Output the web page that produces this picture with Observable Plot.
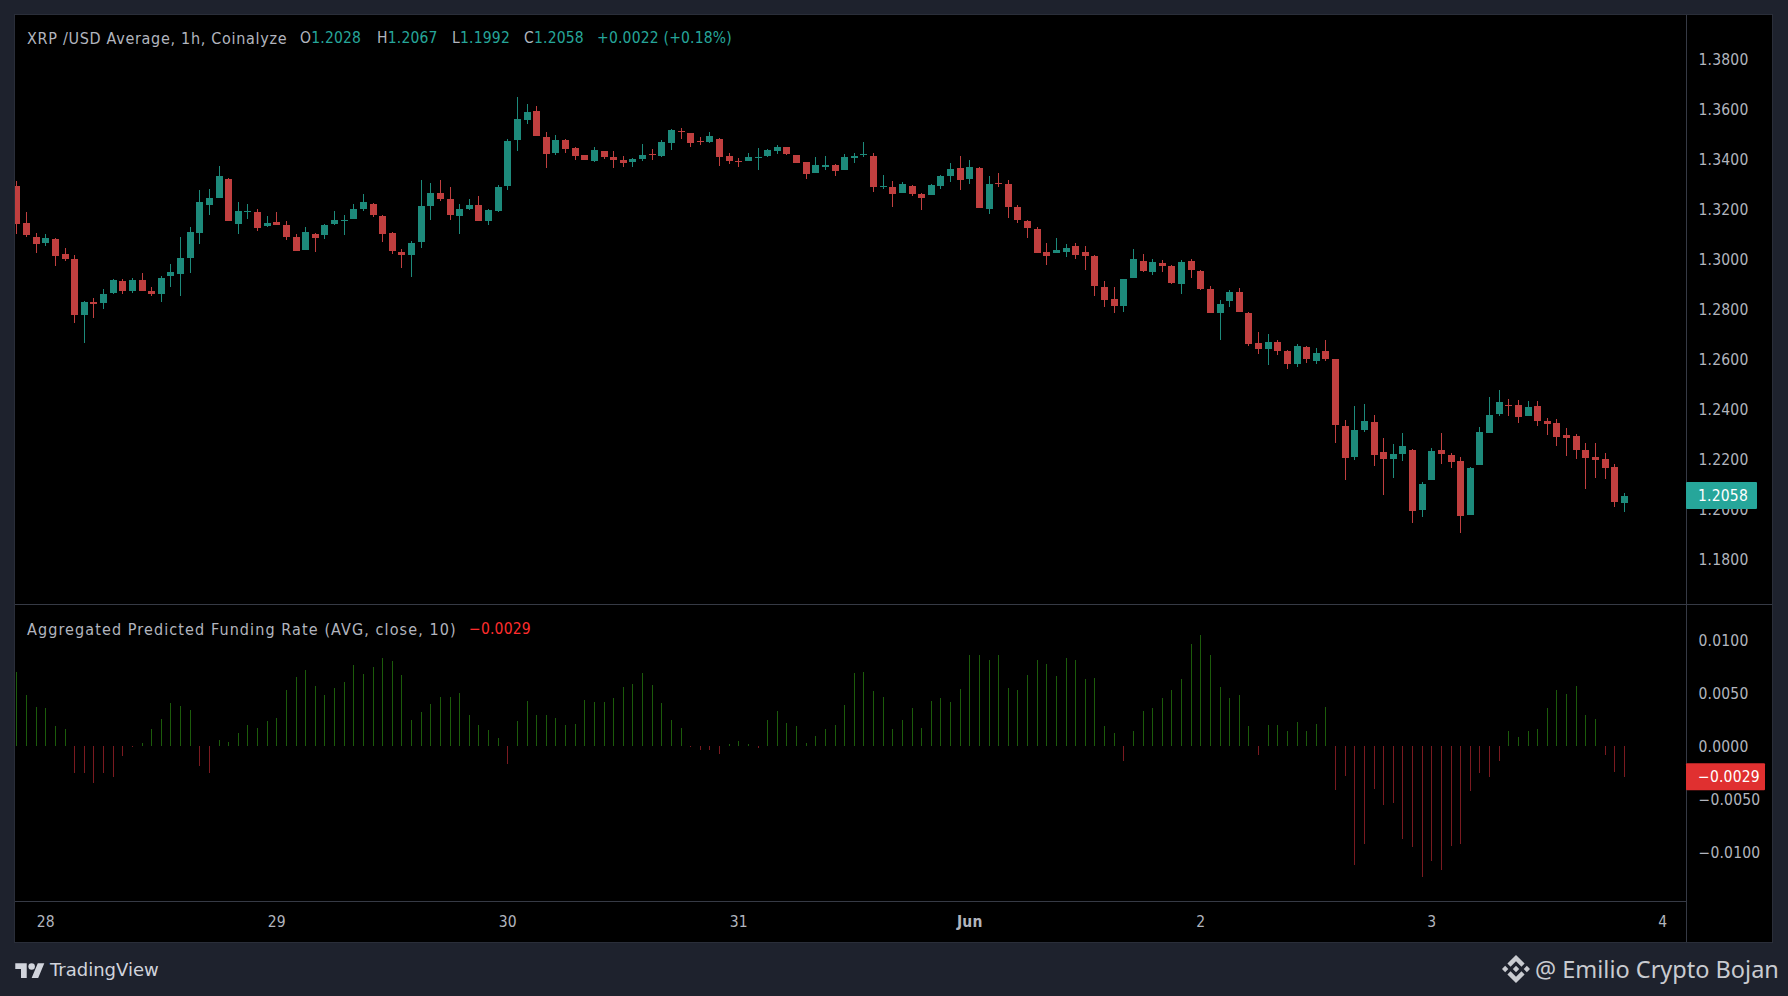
<!DOCTYPE html>
<html>
<head>
<meta charset="utf-8">
<script src="https://cdn.jsdelivr.net/npm/d3@7"></script>
<script src="https://cdn.jsdelivr.net/npm/@observablehq/plot@0.6"></script>
<style>
html,body{margin:0;padding:0;background:#1e222d;width:1788px;height:996px;overflow:hidden}
#page{position:relative;width:1788px;height:996px;background:#1e222d;font-family:"DejaVu Sans",sans-serif;}
#panel{position:absolute;left:14px;top:14px;width:1759px;height:929px;background:#000;box-sizing:border-box;border:1px solid #2a2e39}
.pane{position:absolute;left:15px}
.pane svg{display:block}
.legend{position:absolute;font-size:15.5px;letter-spacing:.2px;color:#b2b5be;white-space:nowrap;font-family:"DejaVu Sans Condensed","DejaVu Sans",sans-serif;font-stretch:condensed}
.up{color:#26a69a}.dn{color:#ff2d2d}
#tv{position:absolute;left:15px;top:960px;color:#d1d4dc;font-size:18px;display:flex;align-items:center;height:18px}
#wm{position:absolute;left:1502px;top:953px;color:#c9cbd0;font-size:23.5px;font-family:"Noto Sans",sans-serif;display:flex;align-items:center;height:32px;white-space:nowrap}
</style>
</head>
<body>
<div id="page">
  <div id="panel"></div>
  <div class="pane" id="pricePane" style="top:15px"></div>
  <div class="pane" id="fundPane" style="top:604px"></div>
  <div class="pane" id="axisPane" style="top:901px"></div>
  <div class="legend" style="left:27px;top:29px;font-size:16px;letter-spacing:.7px">XRP /USD Average, 1h, Coinalyze</div>
  <div class="legend" style="left:300px;top:29px">O<span class="up">1.2028</span></div>
  <div class="legend" style="left:377px;top:29px">H<span class="up">1.2067</span></div>
  <div class="legend" style="left:452px;top:29px">L<span class="up">1.1992</span></div>
  <div class="legend" style="left:524px;top:29px">C<span class="up">1.2058</span></div>
  <div class="legend up" style="left:597px;top:29px">+0.0022 (+0.18%)</div>
  <div class="legend" style="left:27px;top:620px;font-size:16px;letter-spacing:1.1px">Aggregated Predicted Funding Rate (AVG, close, 10)</div>
  <div class="legend dn" style="left:469px;top:620px">−0.0029</div>
  <div id="tv">
    <svg width="30" height="18" viewBox="0 0 36 22" fill="#d1d4dc" style="margin-right:5px"><path d="M14 22H7V11H0V4h14v18zM28 22h-8l7.5-18h8L28 22z"/><circle cx="20" cy="8" r="4"/></svg>TradingView
  </div>
  <div id="wm">
    <svg width="28" height="28" viewBox="0 0 126.61 126.61" fill="#c9cbd0" style="margin-right:5px"><path d="M38.73 53.2l24.59-24.58 24.6 24.6 14.3-14.31L63.32 0 24.42 38.9zM0 63.31l14.3-14.31 14.31 14.31-14.31 14.3zM38.73 73.41l24.59 24.59 24.6-24.6 14.31 14.29-38.9 38.91-38.91-38.88zM98 63.31l14.3-14.31 14.31 14.3-14.31 14.32zM77.83 63.3L63.32 48.78 52.59 59.51l-1.24 1.23-2.54 2.54 14.51 14.5 14.51-14.47z"/></svg>@ Emilio Crypto Bojan
  </div>
</div>
<script>
const high = [
1.3316,1.3192,1.3107,1.3104,1.3088,1.3048,1.3020,1.2836,1.2848,1.2884,
1.2924,1.2924,1.2928,1.2948,1.2892,1.2936,1.2984,1.3092,1.3132,1.3280,
1.3284,1.3376,1.3328,1.3232,1.3224,1.3204,1.3176,1.3192,1.3156,1.3104,
1.3132,1.3108,1.3144,1.3196,1.3180,1.3224,1.3264,1.3228,1.3180,1.3112,
1.3044,1.3076,1.3320,1.3308,1.3320,1.3292,1.3224,1.3244,1.3256,1.3204,
1.3300,1.3483,1.3652,1.3624,1.3616,1.3512,1.3500,1.3484,1.3452,1.3420,
1.3452,1.3436,1.3436,1.3416,1.3408,1.3464,1.3444,1.3480,1.3524,1.3528,
1.3508,1.3492,1.3512,1.3488,1.3428,1.3408,1.3428,1.3448,1.3444,1.3460,
1.3452,1.3420,1.3392,1.3412,1.3416,1.3384,1.3424,1.3428,1.3472,1.3428,
1.3340,1.3316,1.3312,1.3300,1.3268,1.3304,1.3340,1.3388,1.3416,1.3400,
1.3372,1.3336,1.3348,1.3320,1.3220,1.3160,1.3132,1.3068,1.3088,1.3064,
1.3068,1.3056,1.3020,1.2916,1.2892,1.2924,1.3044,1.3024,1.3004,1.3000,
1.2980,1.3000,1.3004,1.2960,1.2896,1.2840,1.2880,1.2888,1.2792,1.2712,
1.2704,1.2680,1.2640,1.2664,1.2656,1.2648,1.2680,1.2604,1.2360,1.2416,
1.2424,1.2380,1.2288,1.2264,1.2308,1.2244,1.2112,1.2248,1.2308,1.2228,
1.2212,1.2172,1.2332,1.2452,1.2480,1.2444,1.2440,1.2436,1.2436,1.2368,
1.2364,1.2328,1.2304,1.2268,1.2268,1.2228,1.2184,1.2067];
const open = [
1.3296,1.3148,1.3092,1.3068,1.3084,1.3024,1.3004,1.2780,1.2832,1.2828,
1.2868,1.2916,1.2876,1.2920,1.2876,1.2864,1.2936,1.2944,1.3008,1.3108,
1.3220,1.3248,1.3324,1.3144,1.3192,1.3192,1.3136,1.3152,1.3140,1.3092,
1.3040,1.3104,1.3100,1.3144,1.3156,1.3164,1.3204,1.3224,1.3176,1.3108,
1.3032,1.3020,1.3072,1.3216,1.3268,1.3244,1.3176,1.3204,1.3220,1.3156,
1.3196,1.3296,1.3480,1.3560,1.3596,1.3492,1.3428,1.3480,1.3448,1.3420,
1.3396,1.3436,1.3412,1.3400,1.3392,1.3404,1.3424,1.3416,1.3468,1.3516,
1.3508,1.3476,1.3472,1.3484,1.3416,1.3396,1.3396,1.3408,1.3416,1.3436,
1.3452,1.3420,1.3392,1.3348,1.3372,1.3380,1.3360,1.3408,1.3420,1.3416,
1.3292,1.3292,1.3268,1.3296,1.3264,1.3260,1.3296,1.3336,1.3368,1.3324,
1.3368,1.3204,1.3308,1.3304,1.3212,1.3156,1.3124,1.3032,1.3028,1.3032,
1.3056,1.3032,1.3016,1.2892,1.2844,1.2816,1.2928,1.2996,1.2952,1.2988,
1.2976,1.2904,1.2996,1.2956,1.2884,1.2788,1.2836,1.2872,1.2788,1.2668,
1.2644,1.2672,1.2636,1.2584,1.2652,1.2596,1.2636,1.2604,1.2336,1.2212,
1.2320,1.2352,1.2232,1.2204,1.2224,1.2240,1.2000,1.2120,1.2240,1.2220,
1.2196,1.1980,1.2180,1.2308,1.2384,1.2420,1.2420,1.2376,1.2416,1.2356,
1.2348,1.2300,1.2296,1.2240,1.2212,1.2204,1.2172,1.2028];
const close = [
1.3144,1.3100,1.3064,1.3088,1.3016,1.3004,1.2780,1.2832,1.2824,1.2864,
1.2920,1.2876,1.2920,1.2876,1.2864,1.2928,1.2952,1.3008,1.3112,1.3232,
1.3248,1.3336,1.3156,1.3196,1.3196,1.3128,1.3148,1.3140,1.3092,1.3036,
1.3112,1.3088,1.3140,1.3160,1.3160,1.3204,1.3232,1.3180,1.3104,1.3036,
1.3020,1.3068,1.3216,1.3268,1.3244,1.3180,1.3204,1.3220,1.3156,1.3200,
1.3292,1.3476,1.3564,1.3592,1.3496,1.3424,1.3480,1.3444,1.3416,1.3400,
1.3440,1.3412,1.3400,1.3388,1.3404,1.3420,1.3420,1.3472,1.3520,1.3512,
1.3468,1.3472,1.3496,1.3412,1.3396,1.3392,1.3412,1.3412,1.3440,1.3452,
1.3424,1.3388,1.3344,1.3380,1.3380,1.3356,1.3412,1.3416,1.3424,1.3292,
1.3296,1.3264,1.3304,1.3264,1.3248,1.3300,1.3336,1.3364,1.3320,1.3372,
1.3208,1.3304,1.3304,1.3212,1.3160,1.3128,1.3028,1.3016,1.3040,1.3048,
1.3020,1.3016,1.2896,1.2840,1.2816,1.2924,1.3004,1.2956,1.2992,1.2976,
1.2908,1.2992,1.2960,1.2884,1.2788,1.2824,1.2872,1.2792,1.2664,1.2644,
1.2672,1.2636,1.2584,1.2656,1.2604,1.2628,1.2604,1.2340,1.2208,1.2320,
1.2356,1.2220,1.2204,1.2224,1.2256,1.1996,1.2104,1.2236,1.2224,1.2192,
1.1976,1.2168,1.2312,1.2380,1.2432,1.2416,1.2372,1.2412,1.2356,1.2344,
1.2292,1.2288,1.2240,1.2208,1.2200,1.2168,1.2032,1.2058];
const low = [
1.3104,1.3092,1.3028,1.3056,1.2976,1.2996,1.2748,1.2668,1.2768,1.2804,
1.2866,1.2864,1.2868,1.2876,1.2856,1.2832,1.2892,1.2856,1.2948,1.3064,
1.3180,1.3248,1.3156,1.3104,1.3164,1.3116,1.3132,1.3140,1.3080,1.3036,
1.3040,1.3032,1.3084,1.3140,1.3100,1.3164,1.3196,1.3172,1.3072,1.3024,
1.2968,1.2932,1.3048,1.3160,1.3236,1.3160,1.3104,1.3200,1.3156,1.3140,
1.3192,1.3280,1.3436,1.3544,1.3496,1.3368,1.3420,1.3428,1.3400,1.3400,
1.3392,1.3404,1.3368,1.3372,1.3372,1.3396,1.3400,1.3412,1.3440,1.3484,
1.3452,1.3460,1.3468,1.3376,1.3384,1.3372,1.3396,1.3360,1.3412,1.3424,
1.3420,1.3388,1.3324,1.3348,1.3360,1.3336,1.3360,1.3388,1.3412,1.3272,
1.3284,1.3212,1.3268,1.3256,1.3200,1.3260,1.3284,1.3312,1.3280,1.3304,
1.3208,1.3184,1.3292,1.3168,1.3148,1.3088,1.3028,1.2980,1.3028,1.3012,
1.3004,1.2960,1.2856,1.2812,1.2788,1.2792,1.2928,1.2952,1.2940,1.2952,
1.2904,1.2864,1.2928,1.2880,1.2788,1.2680,1.2812,1.2792,1.2656,1.2624,
1.2580,1.2620,1.2564,1.2572,1.2588,1.2584,1.2596,1.2268,1.2120,1.2200,
1.2312,1.2176,1.2060,1.2128,1.2196,1.1948,1.1972,1.2120,1.2184,1.2168,
1.1908,1.1980,1.2180,1.2308,1.2376,1.2376,1.2348,1.2376,1.2336,1.2300,
1.2256,1.2216,1.2204,1.2084,1.2128,1.2124,1.2012,1.1992];
const funding = [
.0070,.0048,.0037,.0036,.0019,.0016,-.0025,-.0025,-.0035,-.0025,
-.0029,-.0009,-.0001,.0003,.0016,.0026,.0041,.0038,.0034,-.0019,
-.0025,.0006,.0004,.0012,.0020,.0017,.0024,.0027,.0053,.0065,
.0072,.0057,.0048,.0055,.0061,.0077,.0068,.0075,.0083,.0080,
.0067,.0025,.0032,.0040,.0046,.0046,.0050,.0029,.0020,.0015,
.0008,-.0017,.0024,.0043,.0029,.0029,.0027,.0020,.0021,.0044,
.0042,.0042,.0045,.0056,.0059,.0069,.0058,.0041,.0025,.0017,
-.0001,-.0004,-.0004,-.0007,.0002,.0005,.0002,-.0002,.0025,.0033,
.0022,.0019,.0003,.0010,.0016,.0020,.0039,.0069,.0070,.0052,
.0046,.0016,.0025,.0036,.0017,.0043,.0045,.0042,.0054,.0086,
.0086,.0081,.0086,.0055,.0053,.0067,.0081,.0078,.0066,.0083,
.0081,.0063,.0064,.0019,.0012,-.0014,.0014,.0033,.0036,.0045,
.0053,.0063,.0096,.0105,.0086,.0056,.0045,.0048,.0019,-.0008,
.0020,.0020,.0014,.0023,.0014,.0021,.0037,-.0041,-.0028,-.0112,
-.0092,-.0040,-.0056,-.0054,-.0088,-.0095,-.0124,-.0108,-.0117,-.0094,
-.0092,-.0042,-.0025,-.0029,-.0014,.0014,.0009,.0014,.0016,.0036,
.0053,.0049,.0057,.0029,.0026,-.0008,-.0024,-.0029];
const priceTicks = [1.18,1.20,1.22,1.24,1.26,1.28,1.30,1.32,1.34,1.36,1.38];
const fundTicks = [-.01,-.005,0,.005,.01];
const dayTicks = [[4,28,"28"],[4,29,"29"],[4,30,"30"],[4,31,"31"],[5,2,"2"],[5,3,"3"],[5,4,"4"]];
const monthTick = [[5,1,"Jun"]];
const lastClose = close[close.length-1];
const lastFunding = funding[funding.length-1];

const HOUR = 3600000;
const t0 = Date.UTC(2026,4,27,21);
const time = i => new Date(t0 + i*HOUR);
const candles = high.map((h,i)=>({t:time(i),high:h,low:low[i],open:open[i],close:close[i],up:close[i]>=open[i]}));
const bars = funding.map((v,i)=>({t:time(i),v}));

const UP="#1d8a7b", DOWN="#c03f3f", GRID="#363a45", LABEL="#b2b5be";
const W=1757, MR=86;
const xScale = {type:"utc",domain:[time(-0.145),time(173.46)],range:[0,W-MR]};
const font = '"DejaVu Sans Condensed","DejaVu Sans",sans-serif';
const baseStyle = {background:"#000",color:LABEL,fontFamily:font,fontSize:"15.5px",letterSpacing:".2px",overflow:"hidden"};

// value tag drawn in the right gutter at the scale's position for a value
function tag(value,text,fill,tagW){
  return (index,scales,values,dim)=>{
    const g=d3.create("svg:g");
    const y=scales.y(value), x=dim.width-dim.marginRight;
    g.append("rect").attr("x",x).attr("y",y-13.5).attr("width",tagW).attr("height",27).attr("rx",1).attr("fill",fill);
    g.append("text").attr("x",x+12).attr("y",y).attr("dy","0.36em").attr("text-anchor","start").attr("fill","#fff").attr("font-size","15.5px").attr("font-family",font).text(text);
    return g.node();
  };
}

const pricePlot = Plot.plot({
  width:W,height:589,marginLeft:0,marginRight:MR,marginTop:0,marginBottom:0,
  style:baseStyle,
  color:{type:"identity"},
  x:{...xScale,axis:null},
  y:{domain:[1.1624,1.398],range:[589,0],axis:null},
  marks:[
    Plot.axisY({anchor:"right",ticks:priceTicks,tickSize:0,tickPadding:12,tickFormat:d3.format(".4f"),fill:LABEL,label:null}),
    Plot.ruleX(candles,{x:"t",y1:"low",y2:"high",stroke:d=>d.up?UP:DOWN,strokeWidth:1,shapeRendering:"crispEdges"}),
    Plot.ruleX(candles,{x:"t",y1:"open",y2:"close",stroke:d=>d.up?UP:DOWN,strokeWidth:7,shapeRendering:"crispEdges"}),
    Plot.frame({anchor:"right",stroke:GRID}),
    tag(lastClose,d3.format(".4f")(lastClose),"#26a69a",71)
  ]
});
document.getElementById("pricePane").append(pricePlot);

const fundPlot = Plot.plot({
  width:W,height:297,marginLeft:0,marginRight:MR,marginTop:0,marginBottom:0,
  style:baseStyle,
  color:{type:"identity"},
  x:{...xScale,axis:null},
  y:{domain:[-.01462,.01342],range:[297,0],axis:null},
  marks:[
    Plot.axisY({anchor:"right",ticks:fundTicks,tickSize:0,tickPadding:12,tickFormat:d3.format(".4f"),fill:LABEL,label:null}),
    Plot.ruleX(bars,{x:"t",y1:0,y2:"v",stroke:d=>d.v>=0?"#1c5c0b":"#7a1a20",strokeWidth:1,shapeRendering:"crispEdges"}),
    Plot.frame({anchor:"right",stroke:GRID}),
    tag(lastFunding,d3.format(".4f")(lastFunding).replace("-","−"),"#e03030",79)
  ]
});
document.getElementById("fundPane").append(fundPlot);

const tickDate = ([m,d])=>new Date(Date.UTC(2026,m,d));
const axisPlot = Plot.plot({
  width:W,height:41,marginLeft:0,marginRight:MR,marginTop:0,marginBottom:0,
  style:baseStyle,
  x:{...xScale,axis:null},
  marks:[
    Plot.text(dayTicks,{x:tickDate,frameAnchor:"middle",text:d=>d[2],fill:LABEL,fontSize:15.5}),
    Plot.text(monthTick,{x:tickDate,frameAnchor:"middle",text:d=>d[2],fill:LABEL,fontSize:15.5,fontWeight:"bold"}),
    Plot.frame({anchor:"right",stroke:GRID}),
    Plot.frame({anchor:"top",stroke:GRID})
  ]
});
document.getElementById("axisPane").append(axisPlot);

// pane separator above the funding pane, inside the price plot's bottom edge
const sep=document.createElement("div");
sep.style.cssText="position:absolute;left:15px;top:604px;width:1757px;height:1px;background:"+GRID;
document.getElementById("page").append(sep);
</script>
</body>
</html>
